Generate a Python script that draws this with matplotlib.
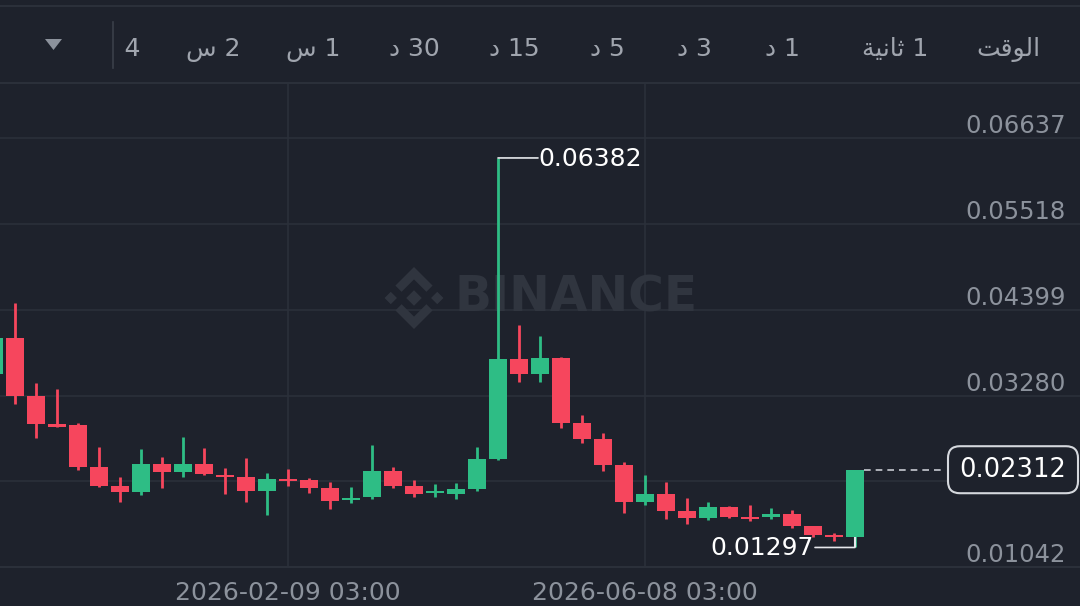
import matplotlib
matplotlib.use('Agg')
import matplotlib.pyplot as plt
from matplotlib.patches import Polygon, FancyBboxPatch, Rectangle
from matplotlib.lines import Line2D

plt.rcParams['font.family'] = ['DejaVu Sans']

# weekly candles, index 0 is cut off at the left edge
opens = [0.03562, 0.04032, 0.03274, 0.02909, 0.02896, 0.02348, 0.02100, 0.02021,
         0.02387, 0.02282, 0.02387, 0.02243, 0.02217, 0.02034, 0.02191, 0.02178,
         0.02073, 0.01917, 0.01956, 0.02295, 0.02100, 0.02008, 0.01995, 0.02060,
         0.02452, 0.03757, 0.03562, 0.03771, 0.02922, 0.02713, 0.02374, 0.01891,
         0.01995, 0.01773, 0.01682, 0.01825, 0.01695, 0.01695, 0.01734, 0.01577,
         0.01460, 0.01434]
highs = [0.04110, 0.04489, 0.03444, 0.03366, 0.02922, 0.02609, 0.02217, 0.02583,
         0.02478, 0.02739, 0.02596, 0.02334, 0.02465, 0.02269, 0.02321, 0.02204,
         0.02152, 0.02086, 0.02635, 0.02348, 0.02178, 0.02126, 0.02139, 0.02609,
         0.06382, 0.04201, 0.04058, 0.03784, 0.03026, 0.02791, 0.02413, 0.02243,
         0.02152, 0.01943, 0.01891, 0.01838, 0.01851, 0.01812, 0.01786, 0.01580,
         0.01486, 0.02312]
lows = [0.03509, 0.03170, 0.02726, 0.02870, 0.02308, 0.02086, 0.01891, 0.01982,
        0.02073, 0.02217, 0.02243, 0.01995, 0.01891, 0.01721, 0.02100, 0.02008,
        0.01799, 0.01878, 0.01930, 0.02073, 0.01956, 0.01956, 0.01930, 0.02034,
        0.02439, 0.03457, 0.03457, 0.02857, 0.02661, 0.02295, 0.01747, 0.01851,
        0.01669, 0.01603, 0.01656, 0.01682, 0.01643, 0.01669, 0.01551, 0.01434,
        0.01381, 0.01297]
closes = [0.04032, 0.03274, 0.02909, 0.02870, 0.02348, 0.02100, 0.02021, 0.02387,
          0.02282, 0.02387, 0.02256, 0.02217, 0.02034, 0.02191, 0.02165, 0.02073,
          0.01904, 0.01943, 0.02295, 0.02100, 0.01995, 0.02034, 0.02060, 0.02452,
          0.03757, 0.03562, 0.03771, 0.02922, 0.02713, 0.02374, 0.01891, 0.01995,
          0.01773, 0.01682, 0.01825, 0.01695, 0.01669, 0.01734, 0.01577, 0.01460,
          0.01434, 0.02312]

price_ticks = [0.01042, 0.02161, 0.03280, 0.04399, 0.05518, 0.06637]
date_idx = [14, 31]
date_labels = ['2026-02-09 03:00', '2026-06-08 03:00']

# interval tabs (arabic in visual order, presentation forms)
tab_labels = ['\uFE96\uFED7\uFEEE\uFEDF\uFE8D',
              '\uFE94\uFEF4\uFEE7\uFE8E\uFE9B 1',
              '\u062F 1', '\u062F 3', '\u062F 5', '\u062F 15', '\u062F 30',
              '\u0633 1', '\u0633 2', '\u0633 4']
tab_right = [1040, 928, 800, 712, 625, 540, 440, 340, 240, 140]

BG = '#1e222c'
GRID = '#2b303a'
GREEN = '#2ebd85'
RED = '#f6465d'
GREY = '#8c929c'
WM = '#30353f'
W, H = 1080, 606


def px(x, y):
    return x / W, 1 - y / H


fig = plt.figure(figsize=(10.8, 6.06), dpi=100, facecolor=BG)
ax = fig.add_axes([0, 39 / H, 1, 484 / H])
ax.set_facecolor(BG)
ax.set_xlim(6 / 21, 1086 / 21)
ax.set_ylim(0.01042, 0.01042 + 484 / 7660)
for s in ax.spines.values():
    s.set_visible(False)

ax.set_yticks(price_ticks)
ax.set_xticks(date_idx)
ax.set_xticklabels(date_labels)
ax.grid(True, color=GRID, lw=1.2)
ax.set_axisbelow(True)
ax.tick_params(axis='y', length=0, labelleft=False)
ax.tick_params(axis='x', length=0, pad=10, labelsize=18, labelcolor=GREY)

# watermark, under the candles
ax.text(576 / W, 1 - 297 / H, 'BINANCE', fontsize=35, fontweight='bold',
        color=WM, ha='center', va='center', transform=fig.transFigure, zorder=1)
cx, cy, r = 414, 298, 31
shapes = [
    [(0, 0.25), (0.25, 0), (0, -0.25), (-0.25, 0)],
    [(0.75, 0.2), (0.95, 0), (0.75, -0.2), (0.55, 0)],
    [(-0.75, 0.2), (-0.55, 0), (-0.75, -0.2), (-0.95, 0)],
    [(0, 1), (0.6, 0.4), (0.4, 0.2), (0, 0.6), (-0.4, 0.2), (-0.6, 0.4)],
    [(0, -1), (0.6, -0.4), (0.4, -0.2), (0, -0.6), (-0.4, -0.2), (-0.6, -0.4)],
]
for sh in shapes:
    pts = [px(cx + a * r, cy - b * r) for a, b in sh]
    ax.add_patch(Polygon(pts, closed=True, fc=WM, ec='none',
                         transform=fig.transFigure, zorder=1))

# candles
n = len(opens)
xs = list(range(n))
cols = [GREEN if c >= o else RED for o, c in zip(opens, closes)]
bottoms = [min(o, c) for o, c in zip(opens, closes)]
heights = [max(abs(c - o), 0.00026) for o, c in zip(opens, closes)]
ax.vlines(xs, lows, highs, colors=cols, lw=2, zorder=2)
ax.bar(xs, heights, bottom=bottoms, width=18 / 21, color=cols, lw=0, zorder=3)

# max / min marks
i_hi = highs.index(max(highs))
i_lo = lows.index(min(lows))
lc = '#e6e8ec'
ax.annotate('', xy=(i_hi, highs[i_hi]), xytext=(40, 0), textcoords='offset pixels',
            arrowprops=dict(arrowstyle='-', color=lc, lw=1.2, shrinkA=0, shrinkB=0))
ax.annotate(f'{highs[i_hi]:.5f}', xy=(i_hi, highs[i_hi]), xytext=(40, -8),
            textcoords='offset pixels', ha='left', va='baseline', color='white',
            fontsize=18)
ax.annotate('', xy=(i_lo, lows[i_lo]), xytext=(-40, 0), textcoords='offset pixels',
            arrowprops=dict(arrowstyle='-', color=lc, lw=1.2, shrinkA=0, shrinkB=0))
ax.vlines(i_lo, lows[i_lo], min(opens[i_lo], closes[i_lo]), colors=lc, lw=1.5, zorder=4)
ax.annotate(f'{lows[i_lo]:.5f}', xy=(i_lo, lows[i_lo]), xytext=(-41, -8),
            textcoords='offset pixels', ha='right', va='baseline', color='white',
            fontsize=18)

# price axis labels (the one under the last-price box is only faintly seen)
last = closes[-1]
for v in price_ticks:
    hidden = abs(v - last) < 0.002
    ax.annotate(f'{v:.5f}', xy=(1, v), xycoords=('axes fraction', 'data'),
                xytext=(-14, 5), textcoords='offset pixels', ha='right',
                va='baseline', color='#3a404b' if hidden else GREY,
                fontsize=17.5, zorder=5)

# last price
ax.hlines(last, n - 1 + 0.43, 45.3, colors='#c7cad1', lw=1.2,
          linestyles=(0, (4, 3)), zorder=4)
yl = fig.transFigure.inverted().transform(ax.transData.transform((0, last)))[1]
fig.add_artist(FancyBboxPatch((948 / W, yl - 23.5 / H), 130 / W, 47 / H,
                              boxstyle='round,pad=0,rounding_size=0.011',
                              mutation_aspect=W / H, fc=BG, ec='#e0e3e8',
                              lw=1.5, alpha=0.95, transform=fig.transFigure,
                              zorder=6))
fig.text(1013 / W, yl, f'{last:.5f}', ha='center', va='center', color='white',
         fontsize=18.5, zorder=7)

# borders
for y in (6, 83, 567):
    fig.add_artist(Line2D([0, 1], [1 - y / H] * 2, color=GRID, lw=1.5,
                          transform=fig.transFigure))

# interval tabs
clip = Rectangle(px(116, 80), (W - 116) / W, 70 / H, transform=fig.transFigure)
for lab, xr in zip(tab_labels, tab_right):
    t = fig.text(xr / W, 1 - 56 / H, lab, ha='right', va='baseline',
                 color='#a0a5ae', fontsize=18)
    t.set_clip_path(clip)
fig.add_artist(Line2D([113 / W] * 2, [1 - 22 / H, 1 - 68 / H], color='#3a3f4a',
                      lw=1.2, transform=fig.transFigure))
fig.add_artist(Polygon([px(45, 39), px(62, 39), px(53.5, 50)], closed=True,
                       fc=GREY, ec='none', transform=fig.transFigure))

fig.savefig('out.png', dpi=100, facecolor=BG)
